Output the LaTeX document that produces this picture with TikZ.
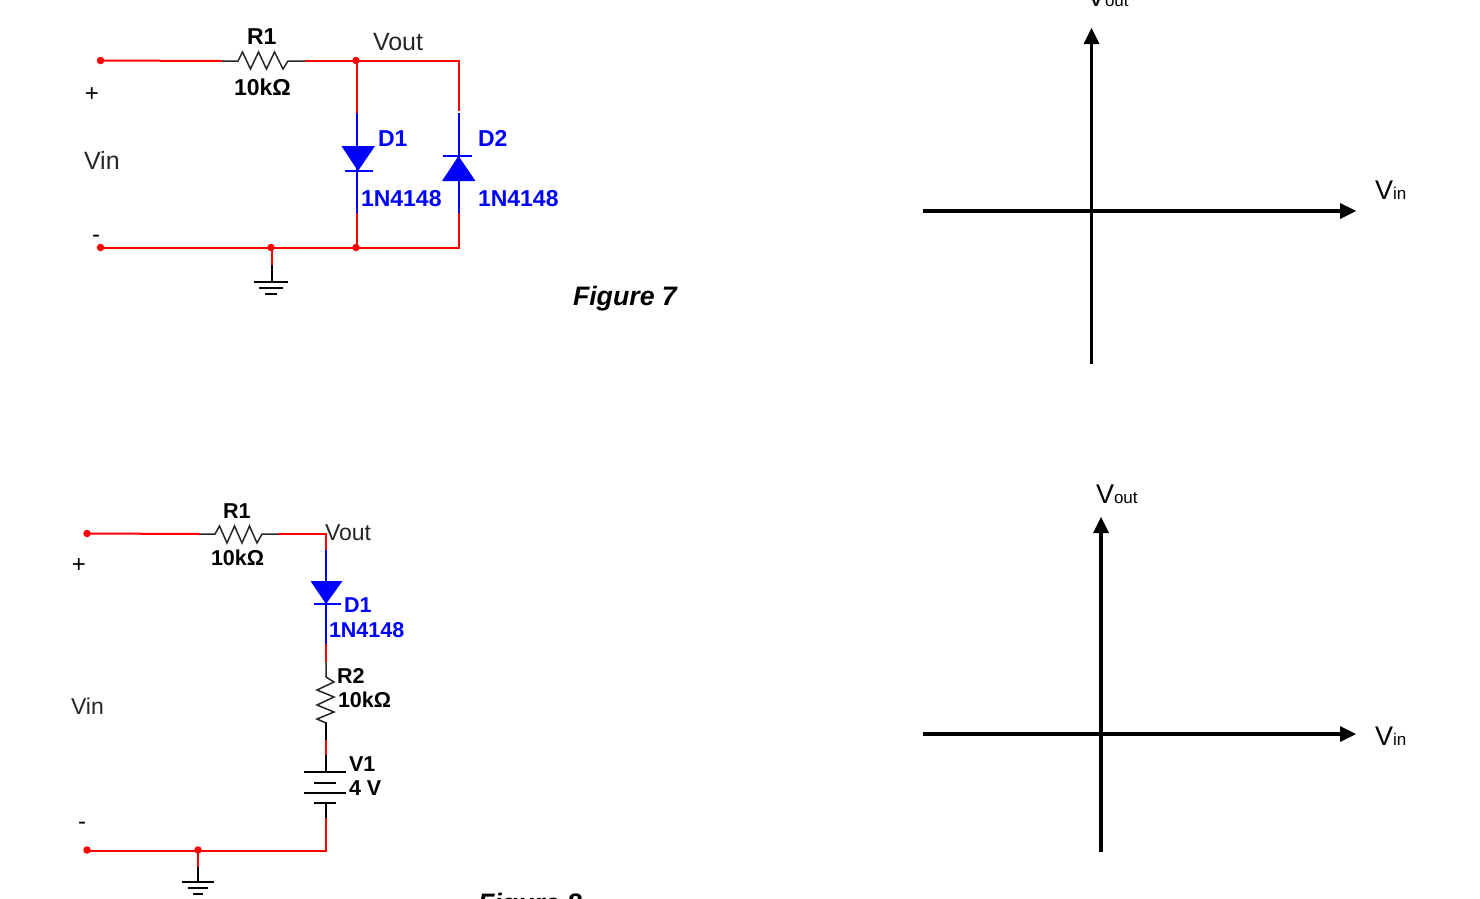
\documentclass[tikz,border=0pt]{standalone}
\usepackage{fontspec}
\setmainfont{Liberation Sans}
\definecolor{wred}{RGB}{255,0,0}
\definecolor{dblue}{RGB}{0,0,255}
\tikzset{
  wire/.style={draw=wred,line width=2pt},
  dwire/.style={draw=dblue,line width=2pt},
  bwire/.style={draw=black,line width=2pt},
  zig/.style={draw=black!85,line width=1.5pt,line join=miter},
  axis/.style={draw=black,line width=4pt},
  axisthin/.style={draw=black,line width=3pt},
  tip/.style={fill=black,draw=none},
  dot/.style={circle,fill=wred,draw=none,inner sep=0pt,minimum size=7.5pt},
  lab/.style={anchor=base west,inner sep=0pt,outer sep=0pt},
  thin24/.style={lab,font=\fontsize{25}{25}\selectfont,text=black!85},
  thin22/.style={lab,font=\fontsize{23}{23}\selectfont,text=black!85},
  blk/.style={lab,font=\fontsize{23}{23}\selectfont\bfseries,text=black},
  blk21/.style={lab,font=\fontsize{21.5}{21.5}\selectfont\bfseries,text=black},
  blu/.style={lab,font=\fontsize{23}{23}\selectfont\bfseries,text=dblue},
  blu21/.style={lab,font=\fontsize{21.5}{21.5}\selectfont\bfseries,text=dblue},
  sgn/.style={inner sep=0pt,font=\fontsize{24}{24}\selectfont,text=black},
  figt/.style={lab,font=\fontsize{26.7}{26.7}\selectfont\bfseries\itshape,text=black},
  axl/.style={lab,font=\fontsize{27}{27}\selectfont,text=black},
}
\newcommand{\axsub}[2]{#1{\fontsize{17}{17}\selectfont #2}}
\begin{document}
\begin{tikzpicture}[x=1pt,y=-1pt]
\useasboundingbox (0,0) rectangle (1480,898);
\clip (0,0) rectangle (1480,898);
\fill[white] (0,0) rectangle (1480,898);
%% ---------- Figure 7 circuit
\node[dot] (a1) at (100.5,60.5) {};
\node[dot] (a2) at (356,60.5) {};
\node[dot] (b1) at (100.5,247.5) {};
\node[dot] (b2) at (271,247.5) {};
\node[dot] (b3) at (356,247.5) {};
\coordinate (r1l) at (222,61);
\coordinate (r1r) at (305,61);
\coordinate (c1) at (459,61);
\coordinate (c2) at (459,248);
\coordinate (d1t) at (357,113);
\coordinate (d1b) at (357,213);
\coordinate (d2t) at (459,113);
\coordinate (d2r) at (459,111);
\coordinate (d2b) at (459,213);
\coordinate (g1) at (272,265);
\coordinate (g1b) at (272,282);
\draw[wire] (a1.center) -- (r1l);
\draw[wire] (r1r) -- (c1) -- (d2r);
\draw[wire] (357,61) -- (d1t);
\draw[dwire] (d1t) -- (d1b);
\draw[wire] (d1b) -- (357,248);
\draw[dwire] (d2t) -- (d2b);
\draw[wire] (d2b) -- (c2) -- (b1.center |- c2);
\draw[wire] (272,248) -- (g1);
\draw[bwire] (g1) -- (g1b);
\draw[zig] (r1l) -- (238,61) -- (242.5,52) -- (250.5,69) -- (258.5,52) -- (266.5,69) -- (274.5,52) -- (283,69) -- (288,61) -- (r1r);
\fill[dblue] (341.5,146) -- (375,146) -- (358,171) -- cycle;
\draw[dwire] (345,171) -- (373,171);
\fill[dblue] (442,181) -- (475.5,181) -- (458.5,156) -- cycle;
\draw[dwire] (443,156) -- (472,156);
\draw[bwire] (254,282) -- (288,282);
\draw[bwire] (259,288) -- (283,288);
\draw[bwire] (265,294) -- (277,294);
\node[blk] (t1) at (247,44) {R1};
\node[blk] (t2) at (234,95) {10kΩ};
\node[sgn] (t3) at (92,95) {+};
\node[thin24] (t4) at (84,169) {Vin};
\node[sgn] (t5) at (96,239) {-};
\node[thin24] (t6) at (373,50) {Vout};
\node[blu] (t7) at (378,146) {D1};
\node[blu] (t8) at (478,146) {D2};
\node[blu] (t9) at (361,206) {1N4148};
\node[blu] (t10) at (478,206) {1N4148};
\node[figt] (t11) at (573,305) {Figure 7};
%% ---------- Figure 7 axes
\coordinate (ax1o) at (923,211);
\coordinate (ax1e) at (1342,211);
\coordinate (ay1o) at (1091.5,364);
\coordinate (ay1e) at (1091.5,42);
\draw[axis] (ax1o) -- (ax1e);
\draw[axisthin] (ay1o) -- (ay1e);
\fill[tip] (1356,211) -- (1340,203) -- (1340,219) -- cycle;
\fill[tip] (1091.5,28) -- (1083.5,44) -- (1099.5,44) -- cycle;
\node[axl] (t12) at (1375,199) {\axsub{V}{in}};
\node[axl] (t13) at (1087,6) {\axsub{V}{out}};
%% ---------- Figure 8 circuit
\node[dot] (p1) at (87,533.5) {};
\node[dot] (q1) at (87,850) {};
\node[dot] (q2) at (198,850) {};
\coordinate (s1l) at (200,534);
\coordinate (s1r) at (278,534);
\coordinate (s2) at (326,534);
\coordinate (e1t) at (326,550);
\coordinate (e1b) at (326,644);
\coordinate (s3) at (326,662);
\coordinate (s35) at (326,722);
\coordinate (s4) at (326,740);
\coordinate (s5) at (326,755);
\coordinate (s6) at (326,772);
\coordinate (s7) at (326,803);
\coordinate (s8) at (326,818);
\coordinate (s9) at (326,851);
\coordinate (g2) at (198,867);
\coordinate (g2b) at (198,882);
\draw[wire] (p1.center) -- (s1l);
\draw[wire] (s1r) -- (s2) -- (e1t);
\draw[dwire] (e1t) -- (e1b);
\draw[wire] (e1b) -- (s3);
\draw[bwire] (s35) -- (s4);
\draw[wire] (s4) -- (s5);
\draw[bwire] (s5) -- (s6);
\draw[bwire] (s7) -- (s8);
\draw[wire] (s8) -- (s9) -- (q1.center |- s9);
\draw[wire] (198,851) -- (g2);
\draw[bwire] (g2) -- (g2b);
\draw[zig] (s1l) -- (215,534) -- (219.5,526) -- (227,543) -- (234.5,526) -- (242,543) -- (249.5,526) -- (257,543) -- (262,534) -- (s1r);
\draw[zig] (s3) -- (326,677) -- (334,682) -- (317,690) -- (334,697) -- (317,705) -- (334,712) -- (317,719) -- (326,723);
\fill[dblue] (310.5,581) -- (342.5,581) -- (326,604) -- cycle;
\draw[dwire] (314,604) -- (341,604);
\draw[bwire] (304,772) -- (346,772);
\draw[bwire] (314,783) -- (336,783);
\draw[bwire] (304,793) -- (346,793);
\draw[bwire] (314,803) -- (336,803);
\draw[bwire] (182,882) -- (214,882);
\draw[bwire] (188,888) -- (208,888);
\draw[bwire] (193,894) -- (203,894);
\node[blk21] (u1) at (223,518) {R1};
\node[blk21] (u2) at (211,565) {10kΩ};
\node[sgn] (u3) at (79,566) {+};
\node[thin22] (u4) at (71,714) {Vin};
\node[sgn] (u5) at (82,826) {-};
\node[thin22] (u6) at (325,540) {Vout};
\node[blu21] (u7) at (344,612) {D1};
\node[blu21] (u8) at (329,637) {1N4148};
\node[blk21] (u9) at (337,683) {R2};
\node[blk21] (u10) at (338,707) {10kΩ};
\node[blk21] (u11) at (349,771) {V1};
\node[blk21] (u12) at (349,795) {4 V};
\node[figt] (u13) at (478,912) {Figure 8};
%% ---------- Figure 8 axes
\coordinate (ax2o) at (923,734);
\coordinate (ax2e) at (1342,734);
\coordinate (ay2o) at (1101,852);
\coordinate (ay2e) at (1101,531);
\draw[axis] (ax2o) -- (ax2e);
\draw[axis] (ay2o) -- (ay2e);
\fill[tip] (1356,734) -- (1340,726) -- (1340,742) -- cycle;
\fill[tip] (1101,517) -- (1093,533) -- (1109,533) -- cycle;
\node[axl] (u14) at (1375,745) {\axsub{V}{in}};
\node[axl] (u15) at (1096,503) {\axsub{V}{out}};
\end{tikzpicture}
\end{document}
